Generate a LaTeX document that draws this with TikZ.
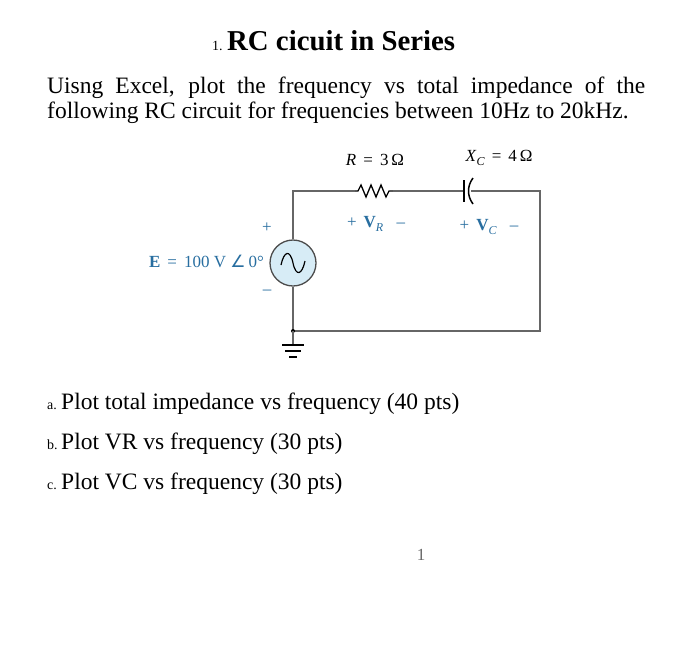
\documentclass[tikz,border=0pt]{standalone}
\usepackage{fontspec}
\setmainfont{Liberation Serif}
\newfontfamily\symfont{DejaVu Sans}
\usetikzlibrary{positioning}
\definecolor{eblue}{RGB}{40,110,160}
\definecolor{srcfill}{RGB}{215,236,246}
\newcommand{\sub}[1]{\raisebox{-3.5pt}{\fontsize{12}{12}\selectfont\textit{#1}}}
\tikzset{
  wire/.style={draw=black!60, line width=1.2pt},
  body/.style={font=\fontsize{23.5}{25}\selectfont, inner sep=0pt},
  small/.style={font=\fontsize{14}{16}\selectfont, inner sep=0pt},
  lab/.style={font=\fontsize{17}{20}\selectfont, inner sep=0pt},
  vlab/.style={lab, text=eblue}
}
\begin{document}
\begin{tikzpicture}[x=1pt,y=-1pt]
\useasboundingbox (0,0) rectangle (700,646);

%Title and question
\node[small, anchor=base west] (num) at (212,50) {1.};
\node[font=\fontsize{28.8}{30}\selectfont\bfseries, inner sep=0pt, anchor=base west] (title) at (227,50) {RC cicuit in Series};
\node[body, anchor=north west, text width=598pt, align=justify] (q) at (47,77) {Uisng Excel, plot the frequency vs total impedance of the\linebreak following RC circuit for frequencies between 10Hz to 20kHz.};

%Circuit
\coordinate (tl) at (293,191);
\coordinate (tr) at (540,191);
\coordinate (br) at (540,331);
\coordinate (bl) at (293,331);
\node[circle, draw=black!70, fill=srcfill, line width=1.3pt, minimum size=46pt, inner sep=0pt] (src) at (293,263) {};
\draw[line width=1.2pt] (src.center) +(-12,2) .. controls +(3,-14) and +(-3,-14) .. +(0,0) .. controls +(3,14) and +(-3,14) .. +(12,-2);
\coordinate (r1) at (355,191);
\coordinate (r2) at (393,191);
\coordinate (c1) at (464,191);
\coordinate (c2) at (471,191);
\draw[wire] (src.north) -- (tl) -- (r1);
\draw[line width=1.3pt] (r1) -- ++(3,0) -- ++(3,-6) -- ++(5,12) -- ++(5,-12) -- ++(5,12) -- ++(5,-12) -- ++(5,12) -- ++(3,-6) -- (r2);
\draw[wire] (r2) -- (c1);
\draw[line width=1.5pt] (464,180) -- (464,202);
\draw[line width=1.5pt] (473,178) .. controls (467,186) and (467,196) .. (473,204);
\draw[wire] (c2) -- (tr) -- (br) -- (bl) -- (src.south);
\fill (bl) circle (2pt);
\coordinate (gnd) at (293,345);
\draw[wire] (bl) -- (gnd);
\draw[line width=1.4pt] (282,345) -- (304,345) (285,351) -- (301,351) (289,357) -- (297,357);

%Circuit labels
\node[lab] (rlab) at (375,160) {\textit{R} \,=\, 3\,Ω};
\node[lab] (xlab) at (499,158) {\textit{X}\sub{C} \,=\, 4\,Ω};
\node[vlab] (vr) at (376,224) {+ \,\textbf{V}\sub{R} \; –};
\node[vlab] (vc) at (489,227) {+ \,\textbf{V}\sub{C} \; –};
\node[vlab] (plus) at (267,228) {+};
\node[vlab] (minus) at (267,292) {–};
\node[vlab, anchor=east] (elab) at (264,261) {\textbf{E} \,=\, 100 V {\symfont ∠}\,0°};

%Tasks
\foreach \y/\m/\t in {409/a./Plot total impedance vs frequency (40 pts),
                      449/b./Plot VR vs frequency (30 pts),
                      489/c./Plot VC vs frequency (30 pts)}
{
\node[small, anchor=base west] at (47,\y) {\m};
\node[body, anchor=base west] at (61,\y) {\t};
}
\node[font=\fontsize{17}{20}\selectfont, text=black!60, inner sep=0pt] (page) at (421,555) {1};
\end{tikzpicture}
\end{document}
